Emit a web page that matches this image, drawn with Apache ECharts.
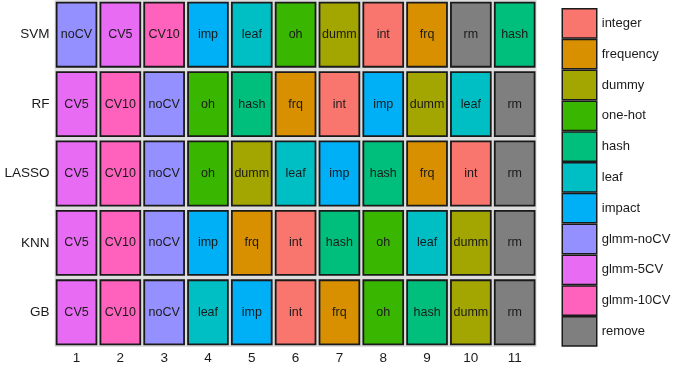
<!DOCTYPE html>
<html>
<head>
<meta charset="utf-8">
<script src="https://cdn.jsdelivr.net/npm/echarts@6/dist/echarts.min.js"></script>
<style>html,body{margin:0;padding:0;background:#fff;}#c{width:685px;height:365px;}</style>
</head>
<body>
<div id="c"></div>
<script>
// ---- data ----
const models = ['SVM', 'RF', 'LASSO', 'KNN', 'GB'];
const ranks = ['1', '2', '3', '4', '5', '6', '7', '8', '9', '10', '11'];
const encodings = ['integer', 'frequency', 'dummy', 'one-hot', 'hash', 'leaf', 'impact', 'glmm-noCV', 'glmm-5CV', 'glmm-10CV', 'remove'];
const abbrev = ['int', 'frq', 'dumm', 'oh', 'hash', 'leaf', 'imp', 'noCV', 'CV5', 'CV10', 'rm'];
const rankSVM   = ['noCV', 'CV5', 'CV10', 'imp', 'leaf', 'oh', 'dumm', 'int', 'frq', 'rm', 'hash'];
const rankRF    = ['CV5', 'CV10', 'noCV', 'oh', 'hash', 'frq', 'int', 'imp', 'dumm', 'leaf', 'rm'];
const rankLASSO = ['CV5', 'CV10', 'noCV', 'oh', 'dumm', 'leaf', 'imp', 'hash', 'frq', 'int', 'rm'];
const rankKNN   = ['CV5', 'CV10', 'noCV', 'imp', 'frq', 'int', 'hash', 'oh', 'leaf', 'dumm', 'rm'];
const rankGB    = ['CV5', 'CV10', 'noCV', 'leaf', 'imp', 'int', 'frq', 'oh', 'hash', 'dumm', 'rm'];

// ---- styles ----
const colors = ['#F8766D', '#D89000', '#A3A500', '#39B600', '#00BF7D', '#00BFC4', '#00B0F6', '#9590FF', '#E76BF3', '#FF62BC', '#7F7F7F'];
const FONT = 'Liberation Sans, Arial, Helvetica, sans-serif';
const TXT = '#1a1a1a';

const rows = [rankSVM, rankRF, rankLASSO, rankKNN, rankGB];

const series = encodings.map((enc, ei) => {
  const data = [];
  const labels = [];
  rows.forEach((row, yi) => {
    row.forEach((ab, xi) => {
      if (ab === abbrev[ei]) { data.push([xi, yi]); labels.push(ab); }
    });
  });
  return {
    name: enc,
    type: 'custom',
    coordinateSystem: 'cartesian2d',
    encode: { x: 0, y: 1 },
    itemStyle: { color: colors[ei] },
    data: data,
    renderItem: function (params, api) {
      const c = api.coord([api.value(0), api.value(1)]);
      const s = api.size([1, 1]);
      const w = s[0] * 0.95, h = s[1] * 0.95;
      const lw = 1.8;
      return {
        type: 'group',
        children: [
          { type: 'rect',
            shape: { x: c[0] - w / 2 + lw / 2, y: c[1] - h / 2 + lw / 2, width: w - lw, height: h - lw },
            style: { fill: colors[ei], stroke: '#1a1a1a', lineWidth: lw } },
          { type: 'text',
            style: { text: labels[params.dataIndex], x: c[0], y: c[1], align: 'center', verticalAlign: 'middle',
                     fontSize: 12.5, fontFamily: FONT, fill: TXT } }
        ]
      };
    }
  };
});

const chart = echarts.init(document.getElementById('c'), null, { renderer: 'canvas' });
chart.setOption({
  backgroundColor: '#ffffff',
  animation: false,
  grid: { left: 54.6, top: 0, width: 482, height: 347.5, show: true, backgroundColor: '#DEDEDE', borderWidth: 0 },
  xAxis: {
    type: 'category', data: ranks,
    axisLine: { show: false }, axisTick: { show: false }, splitLine: { show: false },
    axisLabel: { margin: 4, fontSize: 13.5, color: TXT, fontFamily: FONT }
  },
  yAxis: {
    type: 'category', data: models, inverse: true,
    axisLine: { show: false }, axisTick: { show: false }, splitLine: { show: false },
    axisLabel: { margin: 5, fontSize: 13.5, color: TXT, fontFamily: FONT }
  },
  legend: {
    orient: 'vertical', left: 561.5, top: 8, bottom: 0, padding: 0,
    itemWidth: 34.5, itemHeight: 29.3, itemGap: 0,
    icon: 'rect',
    itemStyle: { borderColor: '#1a1a1a', borderWidth: 1.5 },
    textStyle: { fontSize: 13, color: TXT, fontFamily: FONT },
    selectedMode: false,
    data: encodings
  },
  series: series
});
</script>
</body>
</html>
